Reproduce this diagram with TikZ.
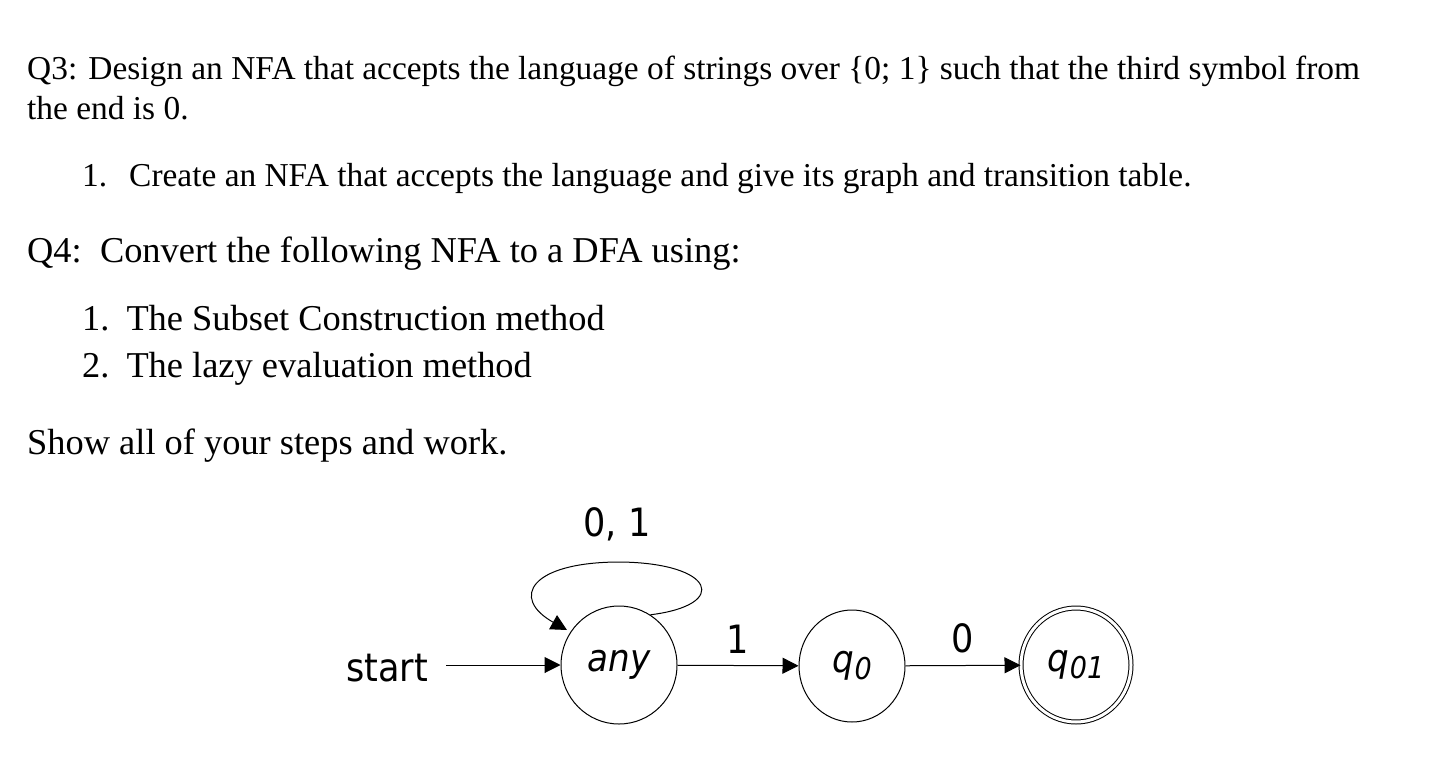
\documentclass[tikz,border=0pt]{standalone}
\usepackage{fontspec}
\setmainfont{Liberation Serif}
\newfontfamily\diafont{DejaVu Sans Condensed}
\usetikzlibrary{arrows.meta,shapes.geometric}
\begin{document}
\begin{tikzpicture}[x=1pt,y=-1pt,
  txt/.style={anchor=base west,inner sep=0pt,font=\fontsize{33.4}{38}\selectfont},
  big/.style={font=\fontsize{36.4}{42}\selectfont},
  st/.style={draw,ellipse,line width=1pt,minimum width=116pt,minimum height=118pt,inner sep=0pt,font=\diafont\fontsize{38}{42}\selectfont},
  lab/.style={font=\diafont\fontsize{39}{44}\selectfont,inner sep=0pt},
  ed/.style={line width=1pt,-{Triangle[length=16pt,width=16pt]}}]
\useasboundingbox (0,0) rectangle (1450,757);
\node[txt] (l1) at (27,80) {Q3: Design an NFA that accepts the language of strings over \{0; 1\} such that the third symbol from};
\node[txt] (l2) at (27,120) {the end is 0.};
\node[txt,font=\fontsize{33.4}{38}\selectfont] (l3) at (82,186) {1.\hspace{22pt}Create an NFA that accepts the language and give its graph and transition table.};
\node[txt,big] (l4) at (27,262) {Q4:\, Convert the following NFA to a DFA using:};
\node[txt,big] (l5) at (82,330) {1.\hspace{17pt}The Subset Construction method};
\node[txt,big] (l6) at (82,377) {2.\hspace{17pt}The lazy evaluation method};
\node[txt,big] (l7) at (27,454) {Show all of your steps and work.};

\node[st] (any) at (619,665) {\itshape any};
\node[st,minimum width=106pt,minimum height=112pt] (q0) at (852,666) {\itshape q\kern0.5pt\raisebox{-7pt}{\fontsize{30}{34}\selectfont 0}};
\node[st,double,double distance=3pt,minimum width=110pt,minimum height=114pt] (q01) at (1076,665) {\itshape q\kern0.5pt\raisebox{-7pt}{\fontsize{30}{34}\selectfont 01}};
\node[lab,anchor=east] (start) at (428,668) {start};
\coordinate (s0) at (446,665);
\draw[ed] (s0) -- (any);
\draw[ed] (any) -- node[lab,above=12pt] {1} (q0);
\draw[ed] (q0) -- node[lab,above=12pt] {0} (q01);
\draw[ed] (any.58) .. controls (730,605) and (715,563) .. (620,562) .. controls (530,562) and (510,598) .. (567,630);
\node[lab] (lp) at (617,524) {0, 1};
\end{tikzpicture}
\end{document}
